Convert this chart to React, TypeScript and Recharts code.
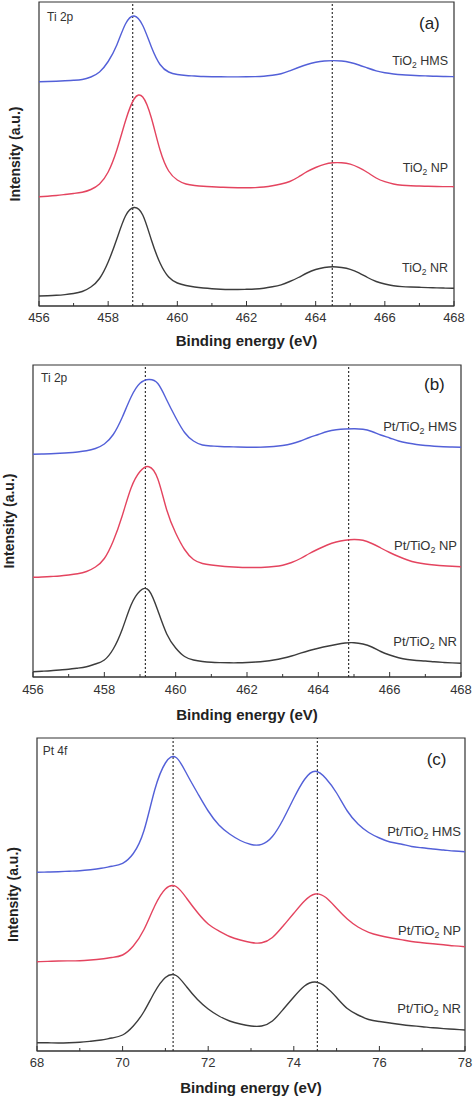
import { LineChart, Line, XAxis, YAxis, ReferenceLine, ReferenceArea } from "recharts";

// Binding-energy sampling grids (eV)
const tiEnergy = [
  456, 456.25, 456.5, 456.75, 457, 457.25, 457.5, 457.75, 458, 458.25, 458.5, 458.75,
  459, 459.25, 459.5, 459.75, 460, 460.25, 460.5, 460.75, 461, 461.25, 461.5, 461.75,
  462, 462.25, 462.5, 462.75, 463, 463.25, 463.5, 463.75, 464, 464.25, 464.5, 464.75,
  465, 465.25, 465.5, 465.75, 466, 466.25, 466.5, 466.75, 467, 467.25, 467.5, 467.75, 468,
];
const ptEnergy = [
  68, 68.25, 68.5, 68.75, 69, 69.25, 69.5, 69.75, 70, 70.25, 70.5, 70.75, 71, 71.25,
  71.5, 71.75, 72, 72.25, 72.5, 72.75, 73, 73.25, 73.5, 73.75, 74, 74.25, 74.5, 74.75,
  75, 75.25, 75.5, 75.75, 76, 76.25, 76.5, 76.75, 77, 77.25, 77.5, 77.75, 78,
];

// (a) Ti 2p, bare TiO2 (stacked intensities, a.u.)
const tiHmsA = [
  224.3, 224.5, 224.8, 225.2, 225.7, 226.5, 229, 234, 244.5, 261, 282, 290, 280.5, 259,
  241.5, 234, 231.5, 230.5, 230, 229.5, 229.3, 229.2, 229.1, 229.1, 229.2, 229.4, 229.8,
  230.7, 232.2, 235.2, 238.5, 241.5, 243.7, 245, 245.4, 245, 243.5, 241, 238, 235.2,
  233.2, 232, 231.2, 230.7, 230.3, 230, 229.7, 229.5, 229.3,
];
const tiNpA = [
  109.3, 109.8, 110.5, 111.5, 112.5, 113.7, 116.5, 122, 134, 156, 185, 207, 209, 188,
  156, 135, 126, 122, 120.5, 119.7, 119.2, 118.8, 118.5, 118.3, 118.2, 118.4, 119, 120.2,
  122, 124.5, 129, 134.3, 138.5, 141.7, 143.2, 143.2, 141.8, 138.3, 133.5, 128, 124.3, 122,
  120.8, 120.2, 120, 119.7, 119.5, 119.4, 119.3,
];
const tiNrA = [
  10, 10.3, 10.7, 11.4, 12.5, 14.5, 19, 27.5, 44, 67, 90, 98.5, 91, 66, 43, 29, 23, 20.5,
  19, 18, 17.3, 16.8, 16.5, 16.5, 16.7, 17, 17.8, 19.2, 21.2, 24.5, 28.5, 33, 36.5, 38.5,
  39.3, 38.5, 36.7, 33.2, 28.5, 24.5, 22, 20.3, 19.4, 19, 18.7, 18.4, 18.1, 17.9, 17.7,
];

// (b) Ti 2p, Pt/TiO2
const tiHmsB = [
  222.7, 223, 223.3, 223.7, 224.2, 225, 226.2, 228.5, 233, 242.5, 259.5, 280, 293.7, 297.5,
  293.5, 277, 259.5, 244.5, 236, 232, 231, 230.5, 230.2, 230, 229.8, 229.8, 230, 230.5, 231.5,
  233.2, 236, 239.5, 242.5, 245.5, 247.2, 248, 248.2, 247.8, 245.5, 242, 239, 236, 234,
  232.5, 231.5, 230.8, 230.3, 230, 229.7,
];
const tiNpB = [
  99.7, 100, 100.5, 101, 102, 103.3, 105.5, 110, 118.5, 136, 161, 189, 205.5, 210.3, 198,
  167, 144, 127.5, 117.5, 113.5, 112, 111, 110.2, 109.7, 109.5, 109.5, 109.7, 110.5, 111.8,
  114.5, 118.5, 123.5, 128, 132, 135, 136.8, 137.5, 136.7, 133.5, 129, 124.5, 120.5, 117,
  114.5, 113, 112, 111.2, 110.7, 110.3,
];
const tiNrB = [
  5.3, 5.8, 6.3, 7, 7.7, 8.8, 10.3, 13, 17, 28, 47.5, 72, 86, 86.5, 66.5, 43, 29, 20.5, 17,
  15.5, 14.7, 14.4, 14.2, 14.2, 14.5, 15, 15.8, 17, 18.7, 21, 23.8, 26.5, 28.7, 30.7, 32.5,
  34, 34.3, 33, 30, 25.5, 22, 19.3, 17.5, 16.5, 16, 15.2, 14.6, 14.1, 13.7,
];

// (c) Pt 4f, Pt/TiO2
const ptHms = [
  178.7, 179, 179.3, 179.8, 180.3, 181.3, 182.7, 184.7, 187.7, 197.5, 220.5, 261, 288,
  293.5, 277, 258, 240, 226, 217, 210.5, 206.5, 206.7, 214.5, 231.5, 252.7, 271.5, 279.7,
  272.5, 258, 240, 227, 218.5, 213, 209, 207, 204.5, 203.2, 202, 201, 200, 199.3,
];
const ptNp = [
  89.3, 89.6, 90, 90.1, 90.3, 91, 92, 93.5, 96, 105, 121.5, 145, 162, 164.5, 152.5, 138.5,
  127, 120, 114.5, 111, 108.5, 108.2, 113.5, 125, 137.7, 150, 157, 153.5, 142.7, 132, 124,
  118.7, 115.5, 113.2, 111.4, 109.5, 108.3, 107.2, 106.2, 105.1, 104.3,
];
const ptNr = [
  8.3, 8.2, 8, 8.2, 8.7, 9.7, 11, 13, 16, 25, 39.5, 59, 73.5, 75.5, 64, 51.5, 42, 35, 30, 27,
  25, 25, 30, 41.5, 54, 65, 69, 64, 53.5, 42.5, 36, 31.5, 29.5, 28, 26.5, 25.3, 24.3, 23.2,
  22.4, 21.7, 21,
];

const tiTicks = [456, 457, 458, 459, 460, 461, 462, 463, 464, 465, 466, 467, 468];
const ptTicks = [68, 69, 70, 71, 72, 73, 74, 75, 76, 77, 78];

// peak positions marked with dotted guides
const guidesA = [458.71, 464.48];
const guidesB = [459.15, 464.85];
const guidesC = [71.18, 74.55];

const sampleNames = ["HMS", "NP", "NR"];

const FONT = "'Liberation Sans', Arial, sans-serif";
const INK = "#333";
const COLORS = { hms: "#5360d8", np: "#e4445f", nr: "#3c3c3c" };

function buildRows(energy: number[], hms: number[], np: number[], nr: number[]) {
  return energy.map((e, i) => ({ e, hms: hms[i], np: np[i], nr: nr[i] }));
}

function EnergyTick(props: any) {
  const { x, y, payload, dy } = props;
  const major = payload.value % 2 === 0;
  return (
    <g>
      <line x1={x} x2={x} y1={y} y2={y - (major ? 5 : 3)} stroke={INK} strokeWidth={1} />
      {major && (
        <text x={x} y={y + dy} textAnchor="middle" fontSize={13} fill={INK} fontFamily={FONT}>
          {payload.value}
        </text>
      )}
    </g>
  );
}

interface PanelProps {
  top: number;
  height: number;
  margin: { top: number; right: number; bottom: number; left: number };
  data: Array<{ e: number; hms: number; np: number; nr: number }>;
  xDomain: [number, number];
  ticks: number[];
  yMax: number;
  guides: number[];
  tickDy: number;
}

function Panel({ top, height, margin, data, xDomain, ticks, yMax, guides, tickDy }: PanelProps) {
  return (
    <div style={{ position: "absolute", left: 0, top }}>
      <LineChart width={474} height={height} data={data} margin={margin}>
        <XAxis
          dataKey="e"
          type="number"
          domain={xDomain}
          ticks={ticks}
          interval={0}
          allowDataOverflow
          height={20}
          tickSize={0}
          tickMargin={0}
          tickLine={false}
          axisLine={{ stroke: INK, strokeWidth: 1.2 }}
          tick={(p: any) => <EnergyTick {...p} dy={tickDy} />}
        />
        <YAxis hide domain={[0, yMax]} />
        <ReferenceArea
          x1={xDomain[0]}
          x2={xDomain[1]}
          y1={0}
          y2={yMax}
          fill="none"
          stroke={INK}
          strokeWidth={1.2}
        />
        {guides.map((g) => (
          <ReferenceLine key={g} x={g} stroke="#222" strokeWidth={1.1} strokeDasharray="2 2" />
        ))}
        {(["hms", "np", "nr"] as const).map((k) => (
          <Line
            key={k}
            dataKey={k}
            type="natural"
            stroke={COLORS[k]}
            strokeWidth={1.4}
            dot={false}
            isAnimationActive={false}
          />
        ))}
      </LineChart>
    </div>
  );
}

function SampleLabel({ x, y, size, name, pt }: { x: number; y: number; size: number; name: string; pt: boolean }) {
  return (
    <text x={x} y={y} textAnchor="end" fontSize={size} fill={INK} fontFamily={FONT}>
      {pt ? "Pt/TiO" : "TiO"}
      <tspan fontSize={size * 0.68} dy={3}>2</tspan>
      <tspan dy={-3}> {name}</tspan>
    </text>
  );
}

function PanelText({
  labelX, labelYs, labelSize, pt, region, regionX, regionY, tag, tagX, tagY,
  yTitleX, yTitleY, xTitleX, xTitleY,
}: any) {
  return (
    <g fontFamily={FONT}>
      {sampleNames.map((n, i) => (
        <SampleLabel key={n} x={labelX} y={labelYs[i]} size={labelSize} name={n} pt={pt} />
      ))}
      <text x={regionX} y={regionY} fontSize={12} fill={INK}>{region}</text>
      <text x={tagX} y={tagY} fontSize={17} fill="#222">{tag}</text>
      <text
        transform={`translate(${yTitleX},${yTitleY}) rotate(-90)`}
        textAnchor="middle"
        dominantBaseline="central"
        fontSize={14}
        fontWeight="bold"
        fill="#222"
      >
        Intensity (a.u.)
      </text>
      <text x={xTitleX} y={xTitleY} textAnchor="middle" fontSize={15} fontWeight="bold" fill="#222">
        Binding energy (eV)
      </text>
    </g>
  );
}

export default function App() {
  return (
    <div style={{ position: "absolute", left: 0, top: 0, width: 474, height: 1100, background: "#fff" }}>
      <Panel
        top={0}
        height={330}
        margin={{ top: 2, right: 20, bottom: 4, left: 39 }}
        data={buildRows(tiEnergy, tiHmsA, tiNpA, tiNrA)}
        xDomain={[456, 468]}
        ticks={tiTicks}
        yMax={304}
        guides={guidesA}
        tickDy={16}
      />
      <Panel
        top={360}
        height={340}
        margin={{ top: 5, right: 13, bottom: 3, left: 33 }}
        data={buildRows(tiEnergy, tiHmsB, tiNpB, tiNrB)}
        xDomain={[456, 468]}
        ticks={tiTicks}
        yMax={312}
        guides={guidesB}
        tickDy={17}
      />
      <Panel
        top={730}
        height={350}
        margin={{ top: 8, right: 9, bottom: 9, left: 37 }}
        data={buildRows(ptEnergy, ptHms, ptNp, ptNr)}
        xDomain={[68, 78]}
        ticks={ptTicks}
        yMax={313}
        guides={guidesC}
        tickDy={16}
      />
      <svg
        width={474}
        height={1100}
        style={{ position: "absolute", left: 0, top: 0, pointerEvents: "none" }}
      >
        <PanelText
          labelX={448} labelYs={[64.5, 171.5, 271.5]} labelSize={12.5} pt={false}
          region="Ti 2p" regionX={47} regionY={20.5} tag="(a)" tagX={419} tagY={28.5}
          yTitleX={15} yTitleY={154} xTitleX={246.5} xTitleY={346}
        />
        <PanelText
          labelX={457} labelYs={[430.5, 549.5, 646]} labelSize={13} pt
          region="Ti 2p" regionX={41} regionY={382} tag="(b)" tagX={424} tagY={389.5}
          yTitleX={9} yTitleY={521} xTitleX={247} xTitleY={720}
        />
        <PanelText
          labelX={461} labelYs={[835.5, 934.5, 1013]} labelSize={13} pt
          region="Pt 4f" regionX={42.7} regionY={754.5} tag="(c)" tagX={426.7} tagY={764.5}
          yTitleX={12.7} yTitleY={894.5} xTitleX={251} xTitleY={1093}
        />
      </svg>
    </div>
  );
}
